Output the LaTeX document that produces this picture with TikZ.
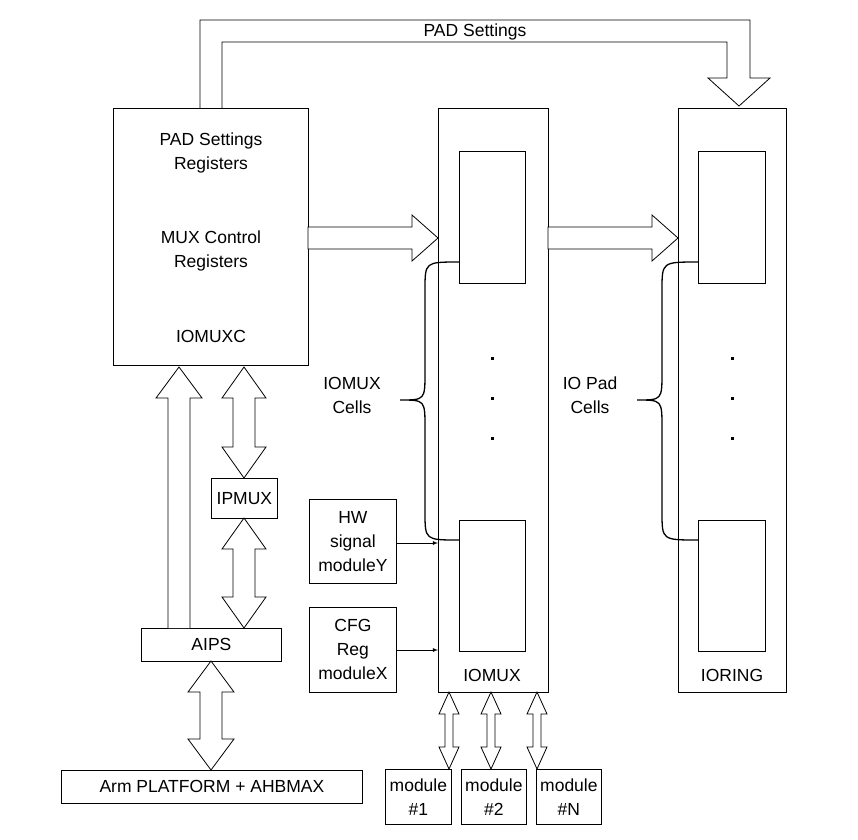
\documentclass[tikz,border=0pt]{standalone}
\usepackage{fontspec}
\setmainfont{Liberation Sans}
\begin{document}
\begin{tikzpicture}[x=1pt,y=-1pt,line width=0.8pt,
  box/.style={draw,fill=white},
  lbl/.style={font=\fontsize{17.5}{24}\selectfont,align=center},
  hol/.style={draw,fill=white,line join=miter}]
\useasboundingbox (0,0) rectangle (858,839);
% PAD settings arrow
\draw[hol] (200,108) -- (200,20) -- (750,20) -- (750,78) -- (770,78) -- (739,106) -- (708,78) -- (727,78) -- (727,42) -- (222,42) -- (222,108);
\node[lbl] (padlbl) at (475,32) {PAD Settings};
% main boxes
\node[box,minimum width=195,minimum height=257,anchor=north west] (iomuxc) at (113,108) {};
\node[lbl] (t1) at (211,153) {PAD Settings\\Registers};
\node[lbl] (t2) at (211,251) {MUX Control\\Registers};
\node[lbl] (t3) at (211,336) {IOMUXC};
\node[box,minimum width=110,minimum height=584,anchor=north west] (iomux) at (438,108) {};
\node[box,minimum width=108,minimum height=584,anchor=north west] (ioring) at (678,108) {};
\node[box,minimum width=66,minimum height=132,anchor=north west] (m1) at (459,151) {};
\node[box,minimum width=66,minimum height=131,anchor=north west] (m2) at (459,520) {};
\node[box,minimum width=67,minimum height=132,anchor=north west] (r1) at (698,151) {};
\node[box,minimum width=67,minimum height=131,anchor=north west] (r2) at (698,520) {};
\node[lbl] (l1) at (492,675) {IOMUX};
\node[lbl] (l2) at (732,675) {IORING};
\foreach \y in {358,398,438}{\fill (490.5,\y-1.5) rectangle (493.5,\y+1.5); \fill (730.5,\y-1.5) rectangle (733.5,\y+1.5);}
% horizontal hollow arrows
\draw[hol] (308,227) -- (412,227) -- (412,215) -- (438,238) -- (412,261) -- (412,249) -- (308,249) -- cycle;
\draw[hol] (548,227) -- (652,227) -- (652,215) -- (678,238) -- (652,261) -- (652,249) -- (548,249) -- cycle;
% braces
\draw[line width=1.3pt] (459,262) .. controls (425,262) .. (425,290) -- (425,372) .. controls (425,400) .. (400,400) .. controls (425,400) .. (425,428) -- (425,512) .. controls (425,540) .. (459,540);
\draw[line width=1.3pt] (698,262) .. controls (662,262) .. (662,290) -- (662,372) .. controls (662,400) .. (637,400) .. controls (662,400) .. (662,428) -- (662,512) .. controls (662,540) .. (698,540);
\node[lbl] (c1) at (352,395) {IOMUX\\Cells};
\node[lbl] (c2) at (590,395) {IO Pad\\Cells};
% HW / CFG
\node[box,lbl,minimum width=87,minimum height=84,anchor=north west,inner sep=0] (hw) at (309,499) {HW\\signal\\moduleY};
\node[box,lbl,minimum width=87,minimum height=85,anchor=north west,inner sep=0] (cfg) at (309,607) {CFG\\Reg\\moduleX};
\draw[-latex] (396,543) -- (438,543);
\draw[-latex] (396,650) -- (438,650);
% left side
\node[box,lbl,minimum width=66,minimum height=40,anchor=north west,inner sep=0] (ipmux) at (211,478) {IPMUX};
\node[box,lbl,minimum width=140,minimum height=33,anchor=north west,inner sep=0] (aips) at (141,628) {AIPS};
\node[box,lbl,minimum width=301,minimum height=33,anchor=north west,inner sep=0] (arm) at (61,770) {Arm PLATFORM + AHBMAX};
\draw[hol] (168,628) -- (168,398) -- (156,398) -- (179,367) -- (202,398) -- (190,398) -- (190,628);
\newcommand\dblarr[6]{% x, ytop, ybot, shaft half, head half, head length
  \draw[hol] (#1,#2) -- (#1+#5,#2+#6) -- (#1+#4,#2+#6) -- (#1+#4,#3-#6) -- (#1+#5,#3-#6) -- (#1,#3) -- (#1-#5,#3-#6) -- (#1-#4,#3-#6) -- (#1-#4,#2+#6) -- (#1-#5,#2+#6) -- cycle;}
\dblarr{244}{367}{478}{11}{22}{31}
\dblarr{244}{518}{628}{11}{22}{31}
\dblarr{211}{661}{770}{11}{23}{31}
\dblarr{449}{692}{769}{4}{10}{22}
\dblarr{491}{692}{769}{4}{10}{22}
\dblarr{537}{692}{769}{4}{10}{22}
\node[box,lbl,minimum width=66,minimum height=55,anchor=north west,inner sep=0] (mod1) at (385,769) {module\\\#1};
\node[box,lbl,minimum width=65,minimum height=55,anchor=north west,inner sep=0] (mod2) at (461,769) {module\\\#2};
\node[box,lbl,minimum width=65,minimum height=55,anchor=north west,inner sep=0] (modn) at (536,769) {module\\\#N};
\end{tikzpicture}
\end{document}
